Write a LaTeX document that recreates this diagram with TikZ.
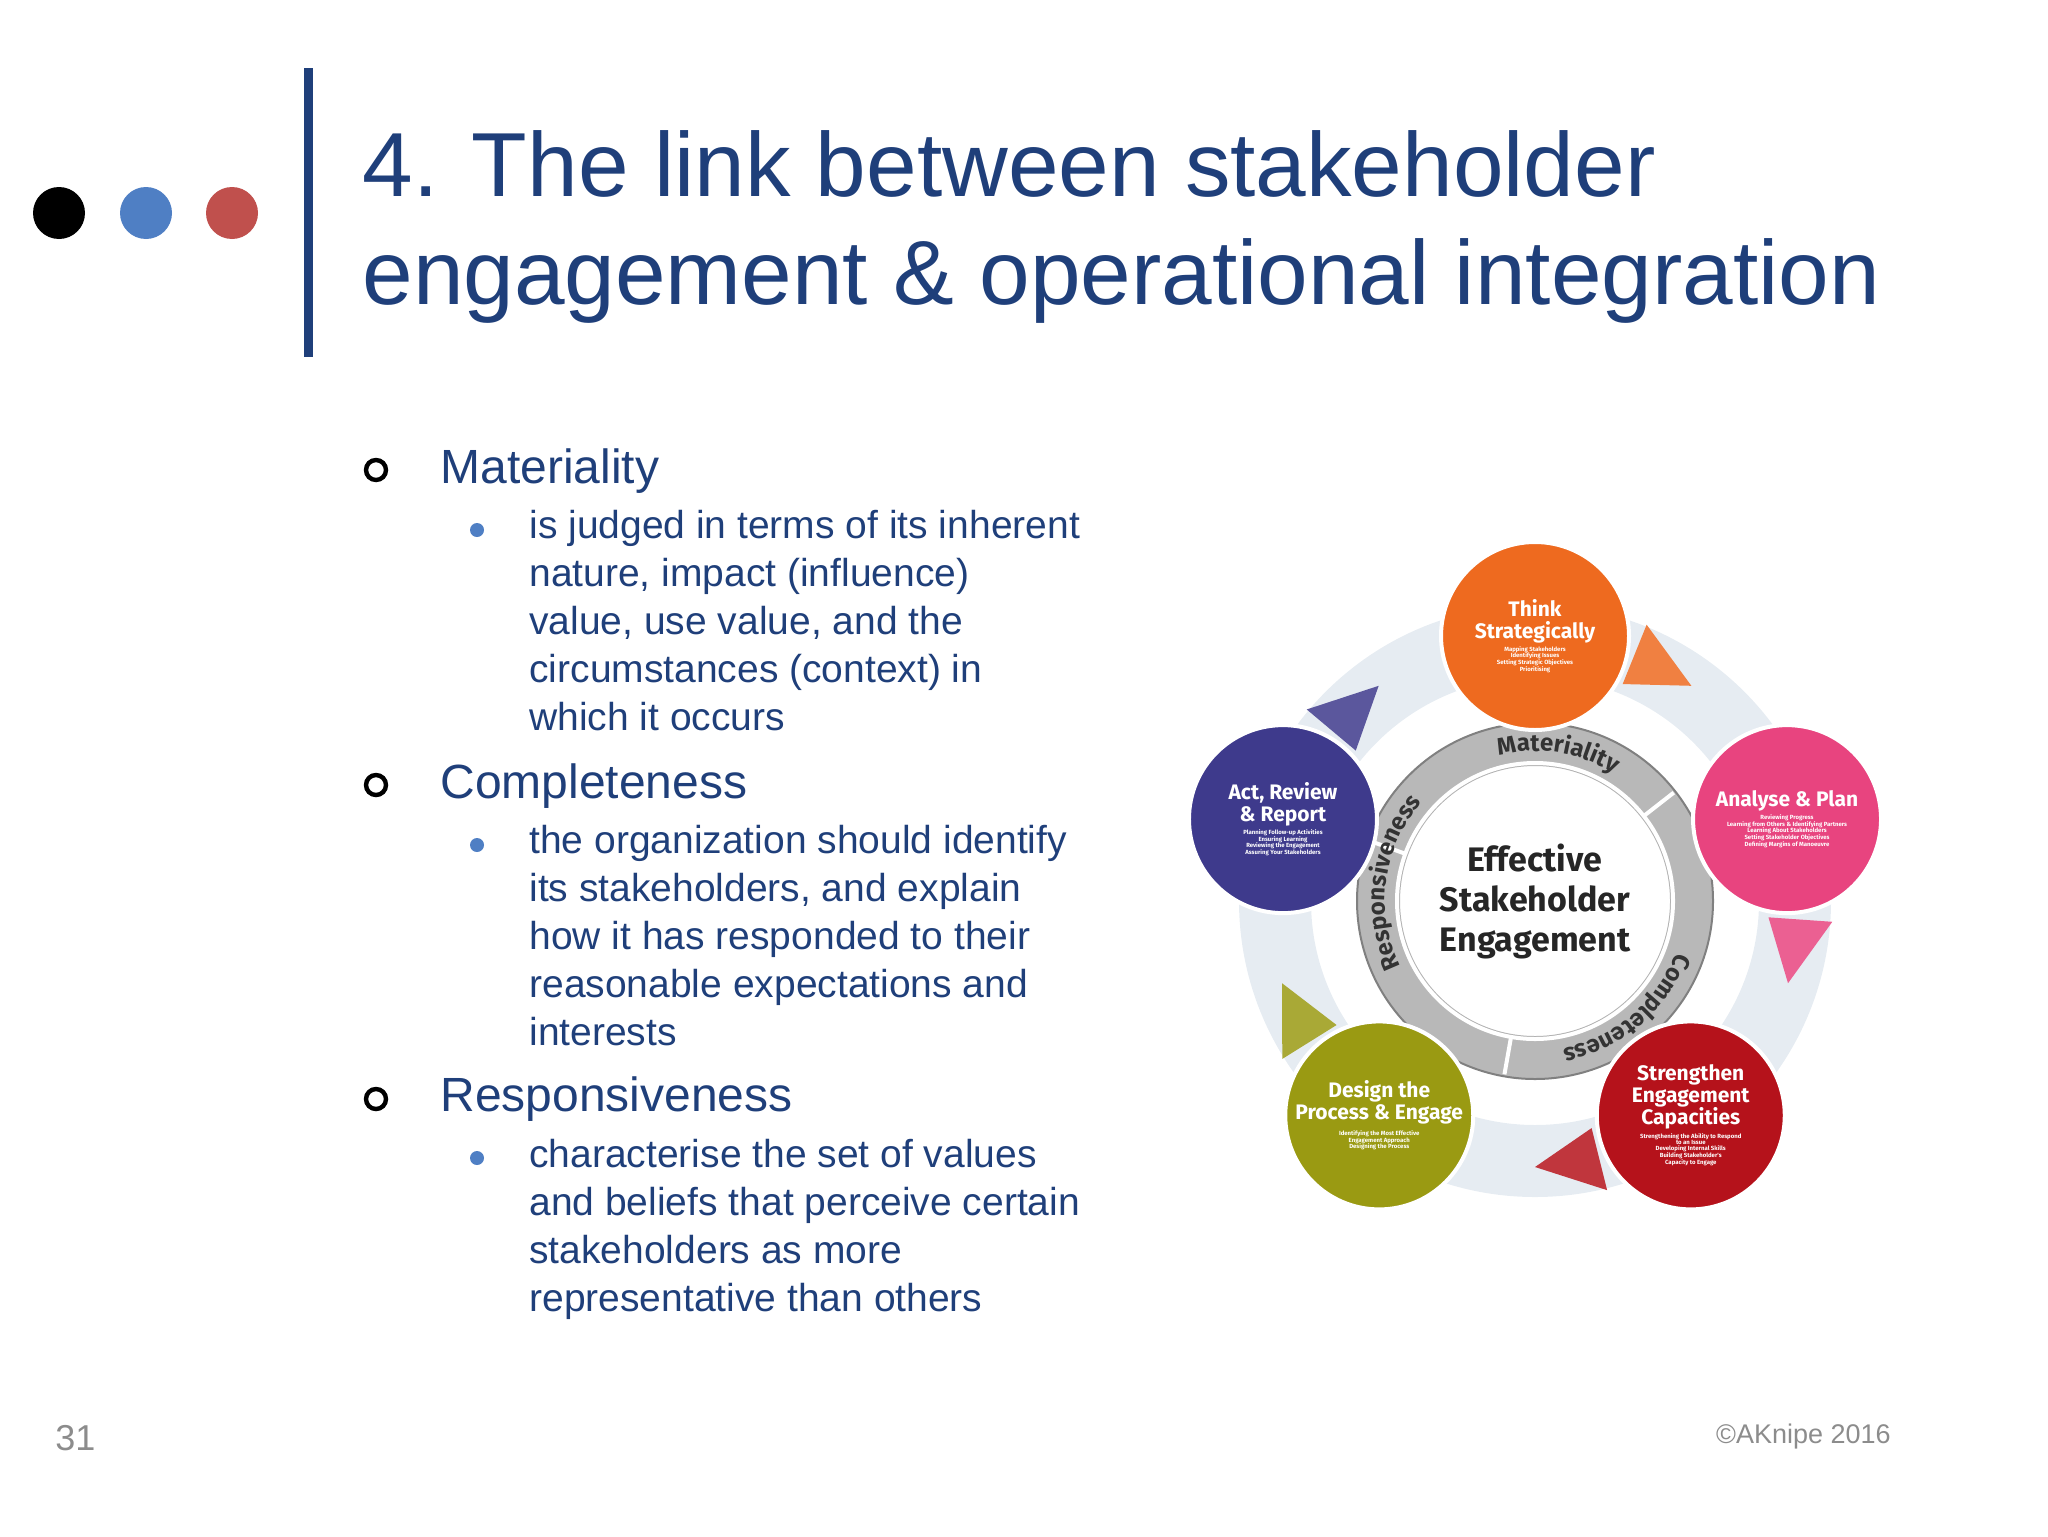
\documentclass[tikz,border=0pt]{standalone}
\usepackage{fontspec}
\setmainfont{Liberation Sans}
\newfontfamily\condf{Fira Sans}
\usetikzlibrary{decorations.text,calc}
\definecolor{tblue}{HTML}{1F3F7A}
\definecolor{dblue}{HTML}{4F7FC4}
\definecolor{dred}{HTML}{C0504D}
\definecolor{corange}{HTML}{EE6A1F}
\definecolor{cpink}{HTML}{E8447F}
\definecolor{cred}{HTML}{B5121B}
\definecolor{colive}{HTML}{9A9A12}
\definecolor{cpurple}{HTML}{3E3A8C}
\definecolor{ringpale}{HTML}{E6ECF2}
\definecolor{ringgray}{HTML}{B8B8B8}
\tikzset{
  stage/.style={circle,minimum size=94pt,draw=white,line width=2pt,text=white,align=center,font=\condf\bfseries\fontsize{10.5}{11}\selectfont,inner sep=0},
  head/.style={anchor=base west,inner sep=0,text=tblue,font=\fontsize{24}{28}\selectfont},
  sub/.style={anchor=north west,inner sep=0,text=tblue,align=left,font=\fontsize{19.5}{24}\selectfont},
  hollow/.style={circle,draw=black,line width=2.2pt,minimum size=10pt,inner sep=0},
  sdot/.style={circle,fill=dblue,minimum size=7pt,inner sep=0},
  ringtxt/.style={decorate,decoration={text along path,text={|\condf\bfseries\fontsize{12}{12}\selectfont\color{black!80}|#1}}}
}
\newcommand{\smallsw}[1]{{\fontsize{3}{3.6}\selectfont\renewcommand{\arraystretch}{0.8}\begin{tabular}{@{}c@{}}#1\end{tabular}}}
\begin{document}
\begin{tikzpicture}[x=0.5pt,y=-0.5pt]
\useasboundingbox (0,0) rectangle (2048,1536);
% header
\node[circle,fill=black,minimum size=26pt,inner sep=0] (d1) at (59,213) {};
\node[circle,fill=dblue,minimum size=26pt,inner sep=0] (d2) at (146,213) {};
\node[circle,fill=dred,minimum size=26pt,inner sep=0] (d3) at (232,213) {};
\fill[tblue] (304,68) rectangle (313,357);
\node[anchor=base west,inner sep=0,text=tblue,font=\fontsize{45.5}{54}\selectfont] (t1) at (362,196) {4. The link between stakeholder};
\node[anchor=base west,inner sep=0,text=tblue,font=\fontsize{45.5}{54}\selectfont] (t2) at (362,304) {engagement \& operational integration};
% bullets
\node[hollow] (b1) at (376,470) {};
\node[head] (h1) at (440,483) {Materiality};
\node[sdot] (s1) at (477,530) {};
\node[sub] (p1) at (529,510) {is judged in terms of its inherent\\nature, impact (influence)\\value, use value, and the\\circumstances (context) in\\which it occurs};
\node[hollow] (b2) at (376,785) {};
\node[head] (h2) at (440,798) {Completeness};
\node[sdot] (s2) at (477,845) {};
\node[sub] (p2) at (529,825) {the organization should identify\\its stakeholders, and explain\\how it has responded to their\\reasonable expectations and\\interests};
\node[hollow] (b3) at (376,1099) {};
\node[head] (h3) at (440,1111) {Responsiveness};
\node[sdot] (s3) at (477,1158) {};
\node[sub] (p3) at (529,1139) {characterise the set of values\\and beliefs that perceive certain\\stakeholders as more\\representative than others};
\node[anchor=base west,inner sep=0,text=black!45,font=\fontsize{18}{20}\selectfont] (pg) at (55,1450) {31};
\node[anchor=base east,inner sep=0,text=black!45,font=\fontsize{13.5}{16}\selectfont] (cp) at (1891,1443) {©AKnipe 2016};
% diagram
\coordinate (C) at (1535,901);
\fill[ringpale,even odd rule] (C) circle[radius=296] (C) circle[radius=224];
\fill[ringgray,even odd rule] (C) circle[radius=178] (C) circle[radius=136];
\draw[black!50,line width=1pt] (C) circle[radius=178];
\draw[black!30,line width=1pt] (C) circle[radius=136];
\draw[white,line width=2pt] (C) circle[radius=138];
\foreach \a in {-38,-160,100}{\draw[white,line width=2pt] (C) ++(\a:138) -- ++(\a:38);}
\path[ringtxt={Materiality}] (C) ++(-104:150) arc[start angle=-104,end angle=-38,radius=150];
\path[ringtxt={Responsiveness}] (C) ++(-206:150) arc[start angle=-206,end angle=-118,radius=150];
\path[ringtxt={Completeness}] (C) ++(20:150) arc[start angle=20,end angle=102,radius=150];
\node[font=\condf\bfseries\fontsize{17}{20}\selectfont,text=black!85,align=center] (ctr) at (C) {Effective\\Stakeholder\\Engagement};
% triangles
\foreach \p/\c in {-90/corange,-18/cpink,54/cred,126/colive,198/cpurple}{
  \fill[\c!85] ($(C)+(\p+22:234)$) -- ($(C)+(\p+22:298)$) -- ($(C)+(\p+36:266)$) -- cycle;
}
% stages
\coordinate (p-think) at ($(C)+(-90:265)$);
\coordinate (p-anal) at ($(C)+(-18:265)$);
\coordinate (p-str) at ($(C)+(54:265)$);
\coordinate (p-des) at ($(C)+(126:265)$);
\coordinate (p-act) at ($(C)+(198:265)$);
\node[stage,fill=corange] (s-think) at (p-think) {Think\\Strategically\\[1pt]\smallsw{Mapping Stakeholders\\Identifying Issues\\Setting Strategic Objectives\\Prioritising}};
\node[stage,fill=cpink] (s-anal) at (p-anal) {Analyse \& Plan\\[1pt]\smallsw{Reviewing Progress\\Learning from Others \& Identifying Partners\\Learning About Stakeholders\\Setting Stakeholder Objectives\\Defining Margins of Manoeuvre}};
\node[stage,fill=cred] (s-str) at (p-str) {Strengthen\\Engagement\\Capacities\\[1pt]\smallsw{Strengthening the Ability to Respond\\to an Issue\\Developing Internal Skills\\Building Stakeholder's\\Capacity to Engage}};
\node[stage,fill=colive] (s-des) at (p-des) {Design the\\Process \& Engage\\[1pt]\smallsw{Identifying the Most Effective\\Engagement Approach\\Designing the Process}};
\node[stage,fill=cpurple] (s-act) at (p-act) {Act, Review\\\& Report\\[1pt]\smallsw{Planning Follow-up Activities\\Ensuring Learning\\Reviewing the Engagement\\Assuring Your Stakeholders}};
\end{tikzpicture}
\end{document}
